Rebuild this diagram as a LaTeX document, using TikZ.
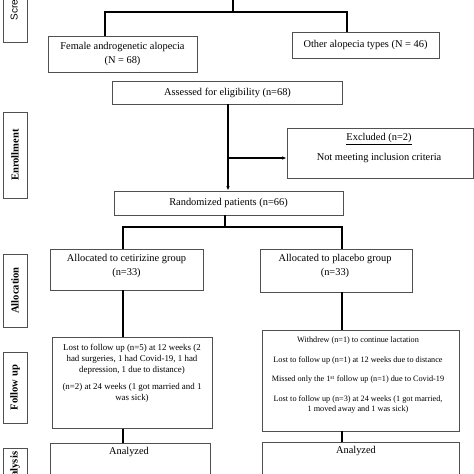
\documentclass[tikz,border=0pt]{standalone}
\usepackage{fontspec}
\setmainfont{Liberation Serif}
\newfontfamily\sansf{Liberation Sans}
\usetikzlibrary{arrows.meta,calc}
\definecolor{boxgray}{HTML}{505050}
\begin{document}
\begin{tikzpicture}[x=1pt,y=-1pt,
  box/.style={draw=boxgray, line width=0.8pt, inner sep=0pt, align=center, font=\fontsize{10.4}{14.5}\selectfont},
  txt/.style={inner sep=0pt, align=center, font=\fontsize{10.4}{14}\selectfont},
  small/.style={inner sep=0pt, align=center, font=\fontsize{8.2}{10.5}\selectfont},
  smallb/.style={inner sep=0pt, align=center, font=\fontsize{8.9}{10.7}\selectfont},
  conn/.style={line width=1.5pt, black},
  arr/.style={conn, -{Latex[length=4.5pt,width=3.5pt]}},
  side/.style={draw=boxgray, line width=0.8pt, inner sep=0pt, rotate=90, minimum height=24pt, font=\bfseries\fontsize{10.6}{12}\selectfont}
]
\useasboundingbox (0,0) rectangle (474,474);
\clip (0,0) rectangle (474,474);
\fill[white] (0,0) rectangle (474,474);

% side labels
\node[side, minimum width=89pt, font=\sansf\fontsize{10}{12}\selectfont] (scr) at (15,-2.5) {Screening};
\node[side, minimum width=86pt] (enr) at (15,155) {Enrollment};
\node[side, minimum width=73pt] (alo) at (15,290.5) {Allocation};
\node[side, minimum width=71pt] (fol) at (15,387.5) {Follow up};
\node[side, minimum width=46pt] (ana) at (15,471) {Analysis};

% main boxes
\node[box, minimum width=149pt, minimum height=36pt] (female) at (122.5,54) {Female androgenetic alopecia\\(N = 68)};
\node[box, minimum width=147pt, minimum height=26pt] (other) at (365.5,45) {Other alopecia types (N = 46)};
\node[box, minimum width=230pt, minimum height=23pt] (assess) at (227.5,92.5) {Assessed for eligibility (n=68)};
\node[box, minimum width=186pt, minimum height=50pt] (excl) at (380,153) {};
\node[txt] (excltxt) at (379,148) {\underline{Excluded (n=2)}\\[6pt]Not meeting inclusion criteria};
\node[box, minimum width=229pt, minimum height=24pt] (rand) at (228.5,203) {Randomized patients (n=66)};

\node[box, minimum width=153pt, minimum height=41pt] (cet) at (126.5,269.5) {};
\node[txt] (cettxt) at (126.5,266) {Allocated to cetirizine group\\(n=33)};
\node[box, minimum width=152pt, minimum height=43pt] (plac) at (336,270.5) {};
\node[txt] (plactxt) at (335,266) {Allocated to placebo group\\(n=33)};

\node[box, minimum width=160pt, minimum height=91pt] (ful) at (132.5,383) {};
\node[smallb] (fultxt) at (132,373.5) {Lost to follow up (n=5) at 12 weeks (2\\had surgeries, 1 had Covid-19, 1 had\\depression, 1 due to distance)\\[7pt](n=2) at 24 weeks (1 got married and 1\\was sick)};
\node[box, minimum width=197pt, minimum height=101pt] (fur) at (360.5,380.5) {};
\node[small] (furtxt) at (358,375.5) {Withdrew (n=1) to continue lactation\\[9pt]Lost to follow up (n=1) at 12 weeks due to distance\\[9pt]Missed only the 1\textsuperscript{st} follow up (n=1) due to Covid-19\\[9pt]Lost to follow up (n=3) at 24 weeks (1 got married,\\1 moved away and 1 was sick)};

\node[box, minimum width=160pt, minimum height=57pt] (anl) at (130,471.5) {};
\node[txt] (anltxt) at (129,452) {Analyzed};
\node[box, minimum width=197pt, minimum height=58pt] (anr) at (360.5,471) {};
\node[txt] (anrtxt) at (356,451) {Analyzed};

% connector coordinates
\coordinate (topin) at (233,-5);
\coordinate (tsplit) at (233,12);
\coordinate (tl) at (105,12);
\coordinate (tr) at (347,12);
\coordinate (ex) at (228,158);
\coordinate (rs) at (225,227);
\coordinate (cl) at (123,227);
\coordinate (cr) at (342,227);

\draw[conn] (topin) -- (tsplit);
\draw[conn] (female.north -| tl) -- (tl) -- (tr) -- (other.north -| tr);
\draw[arr] (assess.south -| ex) -- (rand.north -| ex);
\draw[arr] (ex) -- (excl.west |- ex);
\draw[conn] (rand.south -| rs) -- (rs);
\draw[conn] (cet.north -| cl) -- (cl) -- (cr) -- (plac.north -| cr);
\draw[conn] (cet.south -| cl) -- (ful.north -| cl);
\draw[conn] (ful.south -| cl) -- (anl.north -| cl);
\draw[conn] (plac.south -| cr) -- (fur.north -| cr);
\draw[conn] (fur.south -| cr) -- (anr.north -| cr);
\end{tikzpicture}
\end{document}
